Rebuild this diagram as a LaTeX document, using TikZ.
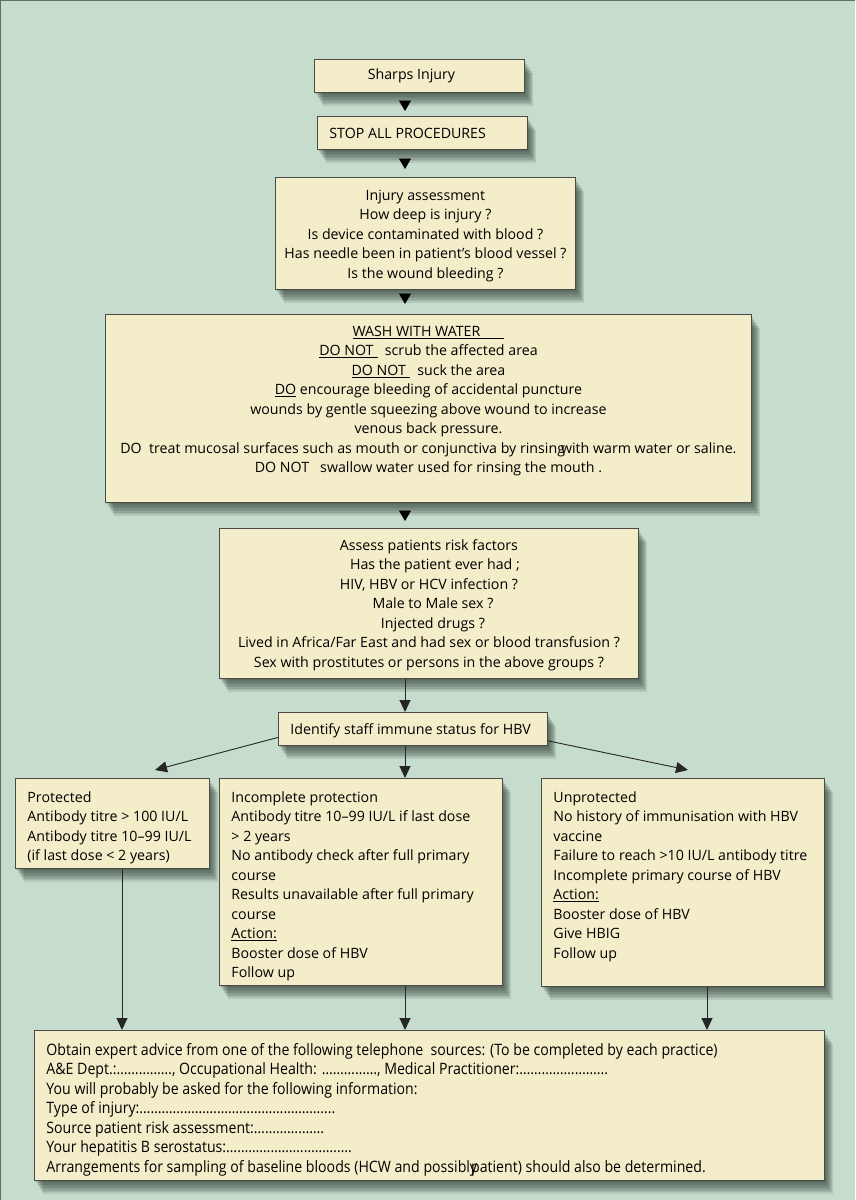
\documentclass[tikz,border=0pt]{standalone}
\usepackage{fontspec}
\setmainfont{Open Sans}
\newfontfamily\condfont[FakeStretch=0.9]{Open Sans}
\usetikzlibrary{arrows.meta,calc}
\definecolor{bg}{HTML}{C6DCCC}
\definecolor{boxfill}{HTML}{F3EDC9}
\definecolor{boxline}{HTML}{4A4A48}
\definecolor{frameline}{HTML}{5E6E66}
\definecolor{shadowcol}{HTML}{2E3A33}
% width, height, first baseline, alignment, content
\newcommand{\cardbody}[5]{\parbox[c][#2pt][t]{#1pt}{#4\fontsize{14.2}{19.5}\selectfont\rule{0pt}{#3pt}#5}}
\tikzset{
  shadowlayer/.style 2 args={preaction={fill=shadowcol, fill opacity=0.12, draw=none,
     transform canvas={shift={(#1pt,#2pt)}}}},
  card/.style={draw=boxline, line width=0.9pt, fill=boxfill, inner xsep=12pt, inner ysep=0pt,
    anchor=north west,
    shadowlayer={0.5}{-1.5}, shadowlayer={1.5}{-3}, shadowlayer={2.5}{-4.5}, shadowlayer={3.5}{-6},
    shadowlayer={4.5}{-7.5}, shadowlayer={5.5}{-9}, shadowlayer={6.5}{-10.5}, shadowlayer={7.5}{-12},
    shadowlayer={8.5}{-13.5}},
  cardc/.style={card, inner xsep=2pt},
  tri/.style={-{Triangle[length=10.5pt,width=12pt]}, line width=0.9pt, draw=black},
  link/.style={-{Triangle[length=12pt,width=11pt]}, line width=0.9pt, draw=black!85}
}
\begin{document}
\begin{tikzpicture}[x=1pt,y=-1pt]
\fill[bg] (0,0) rectangle (855,1200);
\useasboundingbox (0,0) rectangle (855,1200);
\draw[frameline, line width=1.6pt] (0,1200) -- (0,0) -- (855,0);

\node[cardc] (sharps) at (314,59) {\cardbody{206}{33}{20}{\centering}{\hspace*{-16pt}Sharps Injury}};
\node[card] (stop) at (317,116) {\cardbody{186}{33}{22}{\raggedright}{STOP ALL PROCEDURES}};
\node[cardc] (injury) at (275,177) {\cardbody{296}{112}{23}{\centering}{Injury assessment\\
How deep is injury ?\\
Is device contaminated with blood ?\\
Has needle been in patient's blood vessel ?\\
Is the wound bleeding ?}};
\node[cardc] (wash) at (105,314) {\cardbody{642}{188}{22}{\centering}{\underline{WASH WITH WATER\hspace{24pt}}\\
\underline{DO NOT\hspace{4pt}}\ \ scrub the affected area\\
\underline{DO NOT\hspace{4pt}}\ \ suck the area\\
\underline{DO} encourage bleeding of accidental puncture\\
wounds by gentle squeezing above wound to increase\\
venous back pressure.\\
DO\ \ treat mucosal surfaces such as mouth or conjunctiva by rinsing\kern-4pt with warm water or saline.\\
DO NOT\ \ \ swallow water used for rinsing the mouth .}};
\node[cardc] (assess) at (219,528) {\cardbody{415}{150}{22}{\centering}{Assess patients risk factors\\
\hspace*{12pt}Has the patient ever had ;\\
HIV, HBV or HCV infection ?\\
\hspace*{8pt}Male to Male sex ?\\
\hspace*{8pt}Injected drugs ?\\
Lived in Africa/Far East and had sex or blood transfusion ?\\
Sex with prostitutes or persons in the above groups ?}};
\node[card] (identify) at (278,712) {\cardbody{245}{33}{22}{\raggedright}{Identify staff immune status for HBV}};
\node[card] (prot) at (15,778) {\cardbody{170}{90}{24}{\raggedright}{Protected\\
Antibody titre > 100 IU/L\\
Antibody titre 10–99 IU/L\\
(if last dose < 2 years)}};
\node[card] (incomp) at (219,778) {\cardbody{259}{207}{24}{\raggedright}{Incomplete protection\\
Antibody titre 10–99 IU/L if last dose\\
> 2 years\\
No antibody check after full primary\\
course\\
Results unavailable after full primary\\
course\\
\underline{Action:}\\
Booster dose of HBV\\
Follow up}};
\node[card] (unprot) at (541,778) {\cardbody{259}{208}{24}{\raggedright}{Unprotected\\
No history of immunisation with HBV\\
vaccine\\
Failure to reach >10 IU/L antibody titre\\
Incomplete primary course of HBV\\
\underline{Action:}\\
Booster dose of HBV\\
Give HBIG\\
Follow up}};
\node[card] (advice) at (34,1030) {\cardbody{766}{150}{25}{\raggedright\condfont}{\fontsize{15.7}{19.5}\selectfont Obtain expert advice from one of the following telephone\ \ sources: (To be completed by each practice)\\
A\&E Dept.:……………, Occupational Health: ……………, Medical Practitioner:…………………...\\
You will probably be asked for the following information:\\
Type of injury:……………………………………………..\\
Source patient risk assessment:……………….\\
Your hepatitis B serostatus:…………………………….\\
Arrangements for sampling of baseline bloods (HCW and possibly\kern-6pt patient) should also be determined.}};

\coordinate (cmid) at (405,0);
\coordinate (cleft) at (122,0);
\coordinate (cright) at (707,0);
\coordinate (pend) at (155,770);
\coordinate (uend) at (688,770);

\draw[tri, shorten <=8pt, shorten >=5pt] (cmid |- sharps.south) -- (cmid |- stop.north);
\draw[tri, shorten <=9pt, shorten >=8pt] (cmid |- stop.south) -- (cmid |- injury.north);
\draw[tri, shorten <=4pt, shorten >=10pt] (cmid |- injury.south) -- (cmid |- wash.north);
\draw[tri, shorten <=8pt, shorten >=7pt] (cmid |- wash.south) -- (cmid |- assess.north);

\draw[link] (cmid |- assess.south) -- (cmid |- identify.north);
\draw[link] ($(identify.south west)!0.25!(identify.north west)$) -- (pend);
\draw[link] (cmid |- identify.south) -- (cmid |- incomp.north);
\draw[link] ($(identify.south east)!0.15!(identify.north east)$) -- (uend);
\draw[link] (cleft |- prot.south) -- (cleft |- advice.north);
\draw[link] (cmid |- incomp.south) -- (cmid |- advice.north);
\draw[link] (cright |- unprot.south) -- (cright |- advice.north);
\end{tikzpicture}
\end{document}
